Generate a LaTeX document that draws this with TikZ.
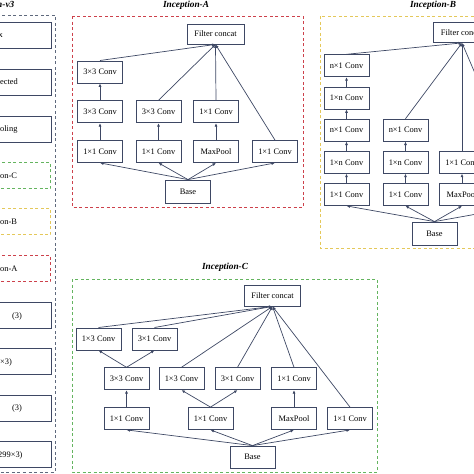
\documentclass[tikz,border=0pt]{standalone}
\usepackage{fontspec}
\setmainfont{Liberation Serif}
\usepackage{tikz}
\usetikzlibrary{positioning}
\usetikzlibrary{shapes,arrows.meta,positioning,fit}
\definecolor{boxc}{RGB}{62,72,100}
\definecolor{redd}{RGB}{205,65,75}
\definecolor{yeld}{RGB}{228,200,90}
\definecolor{grnd}{RGB}{100,180,95}
\definecolor{grayd}{RGB}{95,105,125}
\tikzstyle{block} = [rectangle, draw=boxc, line width=0.8pt, fill=white,
minimum width=45pt, minimum height=22pt, inner sep=0pt, font=\fontsize{8.4}{10}\selectfont]
\tikzstyle{line} = [draw=boxc, line width=0.7pt, -{Latex[length=3.5pt,width=3pt]}]
\tikzstyle{grptitle} = [font=\fontsize{9.3}{11}\selectfont\bfseries\itshape]
\tikzstyle{grpbox} = [line width=0.8pt, dash pattern=on 3pt off 2.5pt]
\tikzstyle{stage} = [block, minimum width=110pt, minimum height=26pt, anchor=east]
\tikzstyle{stagetext} = [anchor=west, inner sep=0pt, text height=1.5ex, text depth=.25ex,
font=\fontsize{8.4}{10}\selectfont]

\begin{document}
\begin{tikzpicture}[x=1pt, y=-1pt, node distance=17pt, auto]
  \useasboundingbox (0,0) rectangle (474,474);
  \clip (0,0) rectangle (474,474);

  % Inception-v3 column
  \draw [grpbox, draw=grayd] (-70,15) rectangle (55,472);
  \node [grptitle] (tv3) at (-10,5) {Inception-v3};
  \node [stage] (softmax) at (52,35) {};
  \node [stage] (fc) at (52,82) {};
  \node [stage] (pool) at (52,129) {};
  \node [stage, grpbox, draw=grnd] (incc) at (51,175.5) {};
  \node [stage, grpbox, draw=yeld] (incb) at (51,221.5) {};
  \node [stage, grpbox, draw=redd] (inca) at (51,268.5) {};
  \node [stage] (conv3) at (52,315.5) {};
  \node [stage] (pool3) at (52,361.5) {};
  \node [stage] (conv1) at (52,408) {};
  \node [stage] (input) at (52,454.5) {};
  \node [stagetext] (softmaxt) at (-1.5,35) {x};
  \node [stagetext] (fct) at (0,82) {ected};
  \node [stagetext] (poolt) at (0,129) {oling};
  \node [stagetext] (incct) at (0,175.5) {on-C};
  \node [stagetext] (incbt) at (0,221.5) {on-B};
  \node [stagetext] (incat) at (0,268.5) {on-A};
  \node [stagetext] (conv3t) at (12,315.5) {(3)};
  \node [stagetext] (pool3t) at (0,361.5) {×3)};
  \node [stagetext] (conv1t) at (12,408) {(3)};
  \node [stagetext] (inputt) at (-2,454.5) {299×3)};

  % Inception-A
  \draw [grpbox, draw=redd] (72,16) rectangle (303,207);
  \node [grptitle] (ta) at (186,5) {Inception-A};
  \node [block, minimum width=57pt, minimum height=20pt] (afc) at (215.5,34) {Filter concat};
  \node [block] (a11) at (100,151.5) {1×1 Conv};
  \node [block, above=of a11] (a21) {3×3 Conv};
  \node [block, above=of a21] (a31) {3×3 Conv};
  \node [block] (a12) at (158.5,151.5) {1×1 Conv};
  \node [block, above=of a12] (a22) {3×3 Conv};
  \node [block] (a13) at (216,151.5) {MaxPool};
  \node [block, above=of a13] (a23) {1×1 Conv};
  \node [block] (a14) at (275,151.5) {1×1 Conv};
  \node [block, minimum height=23pt] (abase) at (188,191.5) {Base};
  % edges
  \path [line] (abase.north) -- (a11.south);
  \path [line] (abase.north) -- (a12.south);
  \path [line] (abase.north) -- (a13.south);
  \path [line] (abase.north) -- (a14.south);
  \path [line] (a11) -- (a21);
  \path [line] (a21) -- (a31);
  \path [line] (a12) -- (a22);
  \path [line] (a13) -- (a23);
  \path [line] (a31.north) -- (afc.south);
  \path [line] (a22.north) -- (afc.south);
  \path [line] (a23.north) -- (afc.south);
  \path [line] (a14.north) -- (afc.south);

  % Inception-B
  \draw [grpbox, draw=yeld] (320,16) rectangle (580,248);
  \node [grptitle] (tb) at (433,5) {Inception-B};
  \node [block, minimum width=57pt, minimum height=20pt] (bfc) at (462,32.5) {Filter concat};
  \begin{scope}[node distance=9.4pt]
    \node [block] (b11) at (346.5,194.5) {1×1 Conv};
    \node [block, above=of b11] (b21) {1×n Conv};
    \node [block, above=of b21] (b31) {n×1 Conv};
    \node [block, above=of b31] (b41) {1×n Conv};
    \node [block, above=of b41] (b51) {n×1 Conv};
    \node [block] (b12) at (405.5,194.5) {1×1 Conv};
    \node [block, above=of b12] (b22) {1×n Conv};
    \node [block, above=of b22] (b32) {n×1 Conv};
    \node [block] (b13) at (462,194.5) {MaxPool};
    \node [block, above=of b13] (b23) {1×1 Conv};
    \node [block] (b14) at (522,194.5) {1×1 Conv};
  \end{scope}
  \node [block, minimum height=23pt] (bbase) at (434.5,233.5) {Base};
  % edges
  \path [line] (bbase.north) -- (b11.south);
  \path [line] (bbase.north) -- (b12.south);
  \path [line] (bbase.north) -- (b13.south);
  \path [line] (bbase.north) -- (b14.south);
  \path [line] (b11) -- (b21);
  \path [line] (b21) -- (b31);
  \path [line] (b31) -- (b41);
  \path [line] (b41) -- (b51);
  \path [line] (b12) -- (b22);
  \path [line] (b22) -- (b32);
  \path [line] (b13) -- (b23);
  \path [line] (b51.north) -- (bfc.south);
  \path [line] (b32.north) -- (bfc.south);
  \path [line] (b23.north) -- (bfc.south);
  \path [line] (b14.north) -- (bfc.south);

  % Inception-C
  \draw [grpbox, draw=grnd] (72,279) rectangle (377,472);
  \node [grptitle] (tc) at (225,267) {Inception-C};
  \node [block, minimum width=56pt, minimum height=21pt] (cfc) at (272.5,295.5) {Filter concat};
  \node [block] (c11) at (126.5,418.5) {1×1 Conv};
  \node [block, above=of c11] (c21) {3×3 Conv};
  \node [block, above=of c21, xshift=-28pt] (c31) {1×3 Conv};
  \node [block, above=of c21, xshift=28pt] (c32) {3×1 Conv};
  \node [block] (c12) at (210.5,418.5) {1×1 Conv};
  \node [block, above=of c12, xshift=-29pt] (c22) {1×3 Conv};
  \node [block, above=of c12, xshift=27pt] (c23) {3×1 Conv};
  \node [block] (c13) at (294,418.5) {MaxPool};
  \node [block, above=of c13] (c24) {1×1 Conv};
  \node [block] (c14) at (350,418.5) {1×1 Conv};
  \node [block] (cbase) at (252.5,457) {Base};
  % edges
  \path [line] (cbase.north) -- (c11.south);
  \path [line] (cbase.north) -- (c12.south);
  \path [line] (cbase.north) -- (c13.south);
  \path [line] (cbase.north) -- (c14.south);
  \path [line] (c11) -- (c21);
  \path [line] (c21.north) -- (c31.south);
  \path [line] (c21.north) -- (c32.south);
  \path [line] (c12.north) -- (c22.south);
  \path [line] (c12.north) -- (c23.south);
  \path [line] (c13) -- (c24);
  \path [line] (c31.north) -- (cfc.south);
  \path [line] (c32.north) -- (cfc.south);
  \path [line] (c22.north) -- (cfc.south);
  \path [line] (c23.north) -- (cfc.south);
  \path [line] (c24.north) -- (cfc.south);
  \path [line] (c14.north) -- (cfc.south);
\end{tikzpicture}
\end{document}
